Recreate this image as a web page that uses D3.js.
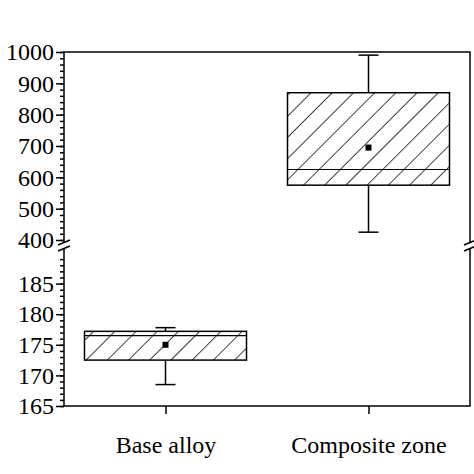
<!DOCTYPE html>
<html><head><meta charset="utf-8">
<script src="https://cdn.jsdelivr.net/npm/d3@7"></script>
<style>body{margin:0;background:#fff}text{font-family:"Liberation Serif","Times New Roman",serif}</style>
</head><body><div id="chart"></div>
<script>
// Data
var categories = ["Base alloy", "Composite zone"];
var whiskerLow = [168.5, 425];
var q1 = [172.5, 575];
var median = [176.5, 625];
var q3 = [177.2, 870];
var whiskerHigh = [177.8, 990];
var means = [175, 695];
var upperTicks = [400, 500, 600, 700, 800, 900, 1000];
var lowerTicks = [165, 170, 175, 180, 185];

var W = 474, H = 474;
var mLeft = 64, mRight = 470, mTop = 52, mBottom = 406;
var breakY = 246;

var svg = d3.select("#chart").append("svg").attr("width", W).attr("height", H);

var defs = svg.append("defs");
defs.append("pattern").attr("id", "hatch").attr("patternUnits", "userSpaceOnUse")
  .attr("width", 15).attr("height", 15).attr("patternTransform", "rotate(45)")
  .append("line").attr("x1", 0).attr("y1", 0).attr("x2", 0).attr("y2", 15)
  .attr("stroke", "#000").attr("stroke-width", 1.5);

var x = d3.scalePoint().domain(categories).range([mLeft, mRight]).padding(0.5);
var yUp = d3.scaleLinear().domain([400, 1000]).range([240, mTop]);
var yLo = d3.scaleLinear().domain([165, 190]).range([mBottom, mBottom - 25 * 6.12]);
function yFor(i) { return i === 0 ? yLo : yUp; }

// Frame
var frame = svg.append("g").attr("stroke", "#000").attr("stroke-width", 1.5).attr("fill", "none");
frame.append("path").attr("d", "M" + mLeft + "," + (breakY - 3) + "V" + mTop + "H" + mRight + "V" + (breakY - 3));
frame.append("path").attr("d", "M" + mLeft + "," + (breakY + 3) + "V" + mBottom + "H" + mRight + "V" + (breakY + 3));
[mLeft, mRight].forEach(function (px) {
  frame.append("line").attr("x1", px - 6).attr("y1", breakY - 1).attr("x2", px + 6).attr("y2", breakY - 6);
  frame.append("line").attr("x1", px - 6).attr("y1", breakY + 5).attr("x2", px + 6).attr("y2", breakY);
});

// Axes
function styleAxis(g) {
  g.select(".domain").remove();
  g.selectAll("line").attr("stroke", "#000").attr("stroke-width", 1.5);
  g.selectAll("text").attr("font-size", 24).attr("fill", "#000");
}
svg.append("g").attr("transform", "translate(" + mLeft + ",0)")
  .call(d3.axisLeft(yUp).tickValues(d3.range(400, 1001, 20)).tickSize(4).tickFormat(""))
  .call(styleAxis);
svg.append("g").attr("transform", "translate(" + mLeft + ",0)")
  .call(d3.axisLeft(yUp).tickValues(upperTicks).tickSize(8).tickPadding(2).tickFormat(d3.format("d")))
  .call(styleAxis);
svg.append("g").attr("transform", "translate(" + mLeft + ",0)")
  .call(d3.axisLeft(yLo).tickValues(d3.range(165, 190, 1)).tickSize(4).tickFormat(""))
  .call(styleAxis);
svg.append("g").attr("transform", "translate(" + mLeft + ",0)")
  .call(d3.axisLeft(yLo).tickValues(lowerTicks).tickSize(8).tickPadding(2))
  .call(styleAxis);
svg.append("g").attr("transform", "translate(0," + mBottom + ")")
  .call(d3.axisBottom(x).tickSize(8).tickPadding(22))
  .call(styleAxis);

// Boxes
var bw = 162;
categories.forEach(function (c, i) {
  var y = yFor(i), cx = x(c);
  var g = svg.append("g").attr("stroke", "#000").attr("stroke-width", 1.5);
  g.append("line").attr("x1", cx).attr("x2", cx).attr("y1", y(whiskerHigh[i])).attr("y2", y(q3[i]));
  g.append("line").attr("x1", cx).attr("x2", cx).attr("y1", y(q1[i])).attr("y2", y(whiskerLow[i]));
  g.append("line").attr("x1", cx - 10).attr("x2", cx + 10).attr("y1", y(whiskerHigh[i])).attr("y2", y(whiskerHigh[i]));
  g.append("line").attr("x1", cx - 10).attr("x2", cx + 10).attr("y1", y(whiskerLow[i])).attr("y2", y(whiskerLow[i]));
  g.append("rect").attr("x", cx - bw / 2).attr("width", bw)
    .attr("y", y(q3[i])).attr("height", y(q1[i]) - y(q3[i]))
    .attr("fill", "url(#hatch)");
  g.append("line").attr("x1", cx - bw / 2).attr("x2", cx + bw / 2)
    .attr("y1", y(median[i])).attr("y2", y(median[i])).attr("stroke-width", 1.2);
  g.append("rect").attr("x", cx - 3).attr("y", y(means[i]) - 3).attr("width", 6).attr("height", 6)
    .attr("fill", "#000").attr("stroke", "none");
});
</script></body></html>
